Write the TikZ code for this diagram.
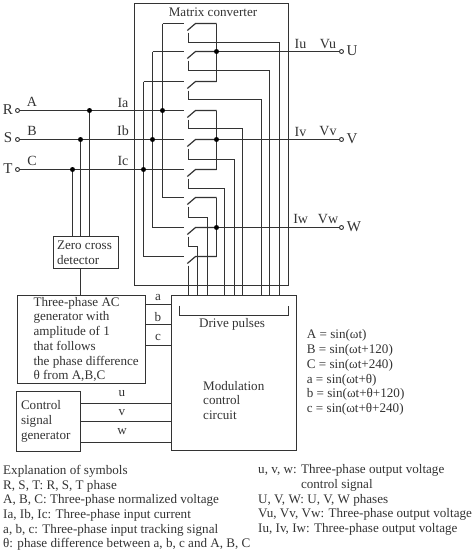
\documentclass[tikz,border=0pt]{standalone}
\usepackage{fontspec}
\setmainfont{Liberation Serif}
\newcommand{\padtext}[3]{\hspace*{#1pt}\parbox{#2pt}{\raggedright #3}}
\newcommand{\bodysize}{\fontsize{13.1}{14.7}\selectfont}
\definecolor{ink}{gray}{0.2}
\tikzset{
  wire/.style={draw=ink,line width=1.2pt},
  blockbox/.style={draw=ink,line width=1.2pt,inner sep=0pt,outer sep=0pt,rectangle,font=\bodysize,text=ink},
  term/.style={circle,draw=ink,fill=white,line width=0.9pt,inner sep=0pt,outer sep=0pt,minimum size=4pt},
  lab/.style={inner sep=0pt,text=ink,font=\bodysize},
  sig/.style={inner sep=0pt,text=ink,font=\fontsize{14}{14}\selectfont},
  biglab/.style={inner sep=0pt,text=ink,font=\fontsize{15}{15}\selectfont},
  txt/.style={inner sep=0pt,text=ink,align=left,anchor=west,font=\bodysize},
  dot/.style={circle,fill=black,inner sep=0pt,minimum size=5pt},
}
\begin{document}
\begin{tikzpicture}[x=1pt,y=-1pt]
\useasboundingbox (0,0) rectangle (474,554);
% blocks
\node[blockbox,minimum width=154pt,minimum height=282pt] (mc) at (211.5,144.5) {};
\node[lab,anchor=center] (mctitle) at (213,12) {Matrix converter};
\node[blockbox,minimum width=65pt,minimum height=32pt] (zcd) at (86,252.5) {\padtext{3.5}{61.5}{Zero cross\\detector}};
\node[blockbox,minimum width=128pt,minimum height=88pt] (gen) at (81.5,339.5) {\padtext{16}{112}{Three-phase AC\\generator with\\amplitude of 1\\that follows\\the phase difference\\θ from A,B,C}};
\node[blockbox,minimum width=64pt,minimum height=60pt] (csg) at (48.5,421.5) {\padtext{4.5}{59.5}{Control\\signal\\generator}};
\node[blockbox,minimum width=125pt,minimum height=155pt] (mod) at (234,373) {};
\node[lab] (dp) at (232,324.3) {Drive pulses};
\node[txt] (modtxt) at (203,400.3) {Modulation\\control\\circuit};
% bracket
\coordinate (brA) at (179.5,305.5);
\coordinate (brB) at (288.5,305.5);
\draw[wire] (brA) -- ++(0,10) -| (brB);
% terminals
\node[term] (tR) at (17.5,110.5) {};
\node[term] (tS) at (17.5,139.5) {};
\node[term] (tT) at (17.5,169.5) {};
\node[term] (tU) at (341.5,51.5) {};
\node[term] (tV) at (341.5,139.5) {};
\node[term] (tW) at (341.5,227.5) {};
% phase columns
\coordinate (pa) at (162.5,110.5);
\coordinate (pb) at (152.5,139.5);
\coordinate (pc) at (143.5,169.5);
% switch rows: number / y / phase column / pole drop end / output x
\foreach \n/\y/\col/\drop/\ox in {1/23.5/pa/42.5/279.5,2/51.5/pb/70.5/269.5,3/81.5/pc/99.5/261.5,4/110.5/pa/128.5/242.5,5/139.5/pb/159.5/234.5,6/169.5/pc/188.5/224.5,7/197.5/pa/217.5/207.5,8/227.5/pb/246.5/197.5}{
  \coordinate (in\n) at (184.3,\y);
  \coordinate (ct\n) at (195.5,\y);
  \coordinate (bus\n) at (216.5,\y);
  \coordinate (arm\n) at (187.3,\y+7);
  \coordinate (pl\n) at (188.5,\y+9);
  \coordinate (pd\n) at (188.5,\drop);
  \coordinate (po\n) at (\ox,\drop);
  \draw[wire] (\col |- in\n) -- (in\n);
  \draw[wire] (arm\n) -- (ct\n) -- (bus\n);
  \draw[wire] (pl\n) -- (pd\n) -- (po\n) -- (po\n |- mod.north);
}
\coordinate (in9) at (184.3,256.5);
\coordinate (ct9) at (195.5,256.5);
\coordinate (bus9) at (216.5,256.5);
\coordinate (arm9) at (187.3,263.5);
\coordinate (pl9) at (188.5,265.5);
\draw[wire] (pc |- in9) -- (in9);
\draw[wire] (arm9) -- (ct9) -- (bus9);
\draw[wire] (pl9) -- (pl9 |- mod.north);
% phase verticals
\draw[wire] (pa |- in1) -- (pa |- in7);
\draw[wire] (pb |- in2) -- (pb |- in8);
\draw[wire] (pc |- in3) -- (pc |- in9);
% output buses and lines
\draw[wire] (bus1) -- (bus3);
\draw[wire] (bus4) -- (bus6);
\draw[wire] (bus7) -- (bus9);
\draw[wire] (bus2) -- (tU);
\draw[wire] (bus5) -- (tV);
\draw[wire] (bus8) -- (tW);
% input lines
\draw[wire] (tR) -- (in4);
\draw[wire] (tS) -- (in5);
\draw[wire] (tT) -- (in6);
% zero-cross tappings
\coordinate (za) at (89.5,110.5);
\coordinate (zb) at (80.5,139.5);
\coordinate (zc) at (72.5,169.5);
\draw[wire] (za) -- (za |- zcd.north);
\draw[wire] (zb) -- (zb |- zcd.north);
\draw[wire] (zc) -- (zc |- zcd.north);
\draw[wire] (zb |- zcd.south) -- (zb |- gen.north);
% dots
\foreach \c in {pa,pb,pc,za,zb,zc,bus2,bus5,bus8}{\node[dot] at (\c) {};}
% signal lines
\coordinate (ya) at (0,304.5);
\coordinate (yb) at (0,324.5);
\coordinate (yc) at (0,345.5);
\coordinate (yu) at (0,403.5);
\coordinate (yv) at (0,421.5);
\coordinate (yw) at (0,442.5);
\foreach \c in {ya,yb,yc}{\draw[wire] (gen.east |- \c) -- (mod.west |- \c);}
\foreach \c in {yu,yv,yw}{\draw[wire] (csg.east |- \c) -- (mod.west |- \c);}
% labels
\node[biglab] (lR) at (8,110) {R};
\node[biglab] (lS) at (8,138) {S};
\node[biglab] (lT) at (8,169) {T};
\node[biglab] (lU) at (352,51) {U};
\node[biglab] (lV) at (352,139) {V};
\node[biglab] (lW) at (354,227) {W};
\node[sig] (lA) at (32,102) {A};
\node[sig] (lB) at (32,131) {B};
\node[sig] (lC) at (32,161) {C};
\node[sig] (lIa) at (123,103) {Ia};
\node[sig] (lIb) at (123,131) {Ib};
\node[sig] (lIc) at (123,161) {Ic};
\node[sig] (lIu) at (300.5,44) {Iu};
\node[sig] (lVu) at (328,44) {Vu};
\node[sig] (lIv) at (300.5,132) {Iv};
\node[sig] (lVv) at (328,131) {Vv};
\node[sig] (lIw) at (300.7,219) {Iw};
\node[sig] (lVw) at (328,219) {Vw};
\node[lab] (la) at (158,297) {a};
\node[lab] (lb) at (158,317) {b};
\node[lab] (lc) at (158,337) {c};
\node[lab] (lu) at (122,394) {u};
\node[lab] (lv) at (122,413) {v};
\node[lab] (lw) at (122,432) {w};
% legends
\node[txt] (formulas) at (306.7,372.5) {A = sin(ωt)\\B = sin(ωt+120)\\C = sin(ωt+240)\\a = sin(ωt+θ)\\b = sin(ωt+θ+120)\\c = sin(ωt+θ+240)};
\node[txt] (expl) at (3,508) {Explanation of symbols\\R, S, T: R, S, T phase\\A, B, C: Three-phase normalized voltage\\Ia, Ib, Ic: Three-phase input current\\a, b, c: Three-phase input tracking signal\\θ: phase difference between a, b, c and A, B, C};
\node[txt] (explr) at (258,500) {u, v, w: Three-phase output voltage\\\phantom{u, v, w: }control signal\\U, V, W: U, V, W phases\\Vu, Vv, Vw: Three-phase output voltage\\Iu, Iv, Iw: Three-phase output voltage};
\end{tikzpicture}
\end{document}
